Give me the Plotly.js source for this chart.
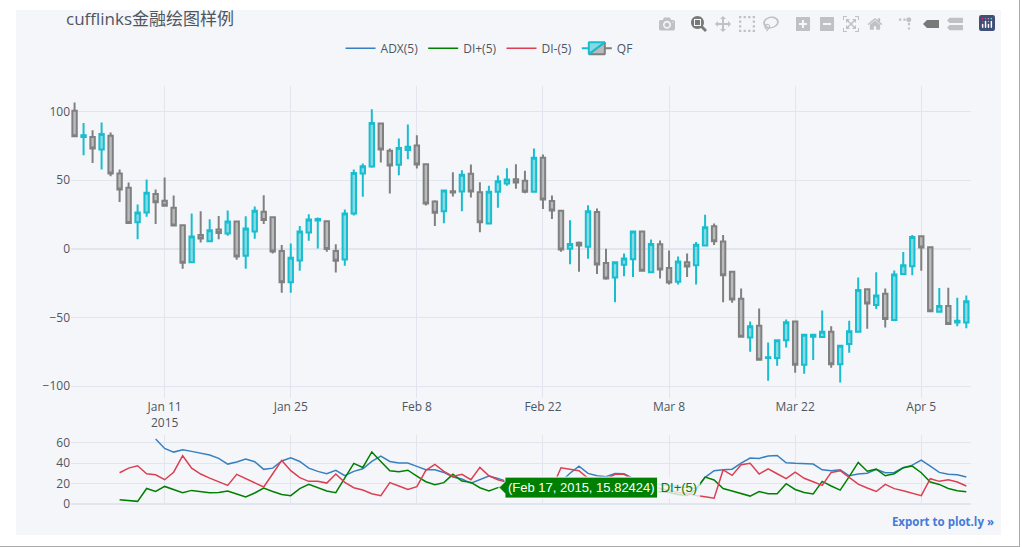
<!DOCTYPE html>
<html><head><meta charset="utf-8">
<script src="https://cdn.plot.ly/plotly-3.0.1.min.js"></script>
<style>
html,body{margin:0;padding:0;background:#fff;overflow:hidden}
#frame{position:absolute;left:0;top:0;width:1019px;height:546px;border-right:1px solid #aaa;border-bottom:1px solid #aaa}
#panel{position:absolute;left:16px;top:10px;width:985px;height:525px;background:#F5F6F9}
#chart{position:absolute;left:16px;top:0;width:985px;height:535px}
.js-plotly-plot .plotly .modebar{top:12px !important}
.js-plot-link-container{font-size:11.5px !important}
</style></head>
<body><div id="frame"></div><div id="panel"></div><div id="chart"></div>
<script>
const dates = [
"2015-01-01","2015-01-02","2015-01-03","2015-01-04","2015-01-05","2015-01-06","2015-01-07","2015-01-08","2015-01-09","2015-01-10",
"2015-01-11","2015-01-12","2015-01-13","2015-01-14","2015-01-15","2015-01-16","2015-01-17","2015-01-18","2015-01-19","2015-01-20",
"2015-01-21","2015-01-22","2015-01-23","2015-01-24","2015-01-25","2015-01-26","2015-01-27","2015-01-28","2015-01-29","2015-01-30",
"2015-01-31","2015-02-01","2015-02-02","2015-02-03","2015-02-04","2015-02-05","2015-02-06","2015-02-07","2015-02-08","2015-02-09",
"2015-02-10","2015-02-11","2015-02-12","2015-02-13","2015-02-14","2015-02-15","2015-02-16","2015-02-17","2015-02-18","2015-02-19",
"2015-02-20","2015-02-21","2015-02-22","2015-02-23","2015-02-24","2015-02-25","2015-02-26","2015-02-27","2015-02-28","2015-03-01",
"2015-03-02","2015-03-03","2015-03-04","2015-03-05","2015-03-06","2015-03-07","2015-03-08","2015-03-09","2015-03-10","2015-03-11",
"2015-03-12","2015-03-13","2015-03-14","2015-03-15","2015-03-16","2015-03-17","2015-03-18","2015-03-19","2015-03-20","2015-03-21",
"2015-03-22","2015-03-23","2015-03-24","2015-03-25","2015-03-26","2015-03-27","2015-03-28","2015-03-29","2015-03-30","2015-03-31",
"2015-04-01","2015-04-02","2015-04-03","2015-04-04","2015-04-05","2015-04-06","2015-04-07","2015-04-08","2015-04-09","2015-04-10"];

const openVals = [100.5,81.5,81.5,72.3,82.3,54.9,44.4,19.4,26.5,40,35,29.9,17.2,-9.7,10,5.6,14,11.2,19.9,-5,12.6,27,23,-1.5,-24.3,
-8.5,11.9,20.6,20.1,-1.5,-7.8,25.7,54.9,60,91.3,71.4,61.2,72,75.2,61.6,34.5,27.4,42,41.7,54.6,41.3,18.4,41.5,47.6,50.7,
49.5,41.5,66.3,34.9,27.7,0,4.4,1.5,26.9,-10.4,-20.9,-11.6,-7.5,12.6,-17,3.4,-14,-24,-9.7,-11.9,2.4,16.5,5.3,-16.7,-36.4,
-64.6,-56,-79.6,-79.6,-66.5,-52.9,-84.5,-64,-64.3,-60.4,-84,-69.4,-60.4,-29.4,-41,-32.8,-51.9,-18.4,-12.6,9.2,1.2,-45.9,-41.7,-53.6,-53.6];
const closeVals = [82,82.8,73,83.7,54.9,43.2,18.9,26.5,40.8,34,31.3,17,-10.2,9,7.5,13.6,11.6,19.9,-5.6,14.8,27.7,21,-2,-24.3,-6.5,
12.6,21.4,21.8,-0.2,-8.7,25.7,55.3,60.2,91.7,72.3,60.7,73.5,74.3,61.4,33,26.2,42.5,41,53.9,41.7,19.4,41.5,49.3,50.5,48.3,
41.5,66.3,35.9,27.9,-0.5,3.6,2.4,27.4,-11.4,-21.6,-9.7,-7,12.6,-16,3.6,-15,-24.5,-9.2,-12.9,2.9,15.8,5.6,-19.2,-36.9,-64,
-56.3,-80.8,-78.9,-66.5,-53.4,-84.5,-62.6,-62.6,-60.4,-84,-70.6,-60,-30,-39.8,-34,-51.2,-18.7,-11.9,8.7,1,-45.4,-41.7,-54.8,-52.4,-38.1];
const highVals = [106.5,91.7,86.4,92,84.7,57.8,48.3,32.3,50.5,43.2,52,38.8,17.7,25.7,27.4,21.6,24,27.9,20.6,23.8,30.8,39,23.8,2.7,3.9,
16.7,25.2,22.8,20.4,3.4,28.6,57.8,62.1,101.7,91.7,73,80.3,90.5,82.8,62.1,35.4,43.2,55.8,57.3,61.4,48.5,45.9,53.4,58.7,61.6,
56.8,73,68.7,38.8,28.2,20.9,5.3,31.8,29.4,0,-9.7,-3.4,13.1,13.1,6.8,6,-1.2,-5.6,-3.4,5,24.8,18.4,10,-16.7,-28.9,
-52.9,-43.4,-68.2,-66,-51.5,-52.2,-62.1,-62.1,-44.9,-56.3,-70.6,-52.4,-20.9,-29.2,-17,-28.9,-15.8,-2.4,10,9.7,1.7,-28.6,-28.4,-35.7,-34];
const lowVals = [81.5,68.2,62.6,57.8,52.9,34.2,18.4,7,23.3,18,31.3,17,-14.6,-9.7,4.6,4.9,7,9.5,-8,-14.6,7.3,18,-3.4,-32,-32,
-16,5.8,0.2,-2.2,-17.2,-12.4,24.3,37.9,59,62.9,40.3,53.6,65.3,58.5,31.6,16.7,18.7,38.1,27.4,37.4,12.1,18.4,29.9,45.9,43.7,
40.5,41.5,29.1,21.8,-2.2,-11.2,-16.7,-7.3,-18.4,-22.6,-39,-19.9,-20.6,-16,-17.5,-21.6,-26,-26,-20.6,-26,2.4,2.7,-39,-39.3,-64,
-75,-81,-96,-85.2,-71.8,-90.3,-91,-81,-64.3,-86.6,-97.3,-75.7,-60.4,-58.2,-43.9,-57.3,-51.9,-18.4,-19.2,-16,-45.6,-46.6,-55,-56.3,-57.8];

const adxVals = [null,null,null,null,null,null,null,null,null,63.6,54.4,50.8,53.1,51.5,49.8,47.9,44.6,39,41,43.9,41.3,33.8,35,42,45.2,
41.6,35,31.8,29.5,32.8,27.5,31.8,34.4,41.6,46.9,41.6,40,40,36.7,33.4,33.4,30.8,26.2,24.3,20.3,23.6,27.2,24.9,22,20,
20,21,22,21,21.6,30,37,29.8,27.5,26.6,29.8,29.5,25,23,21,19,18,17,16,15,26,32.5,33.4,34,40,
45,44.6,47,47.5,40.3,39.7,39.3,39,33.4,32.5,33.4,27.5,29.2,30,33.8,30.5,30.8,35.4,38,43,37,30.8,29,28.5,26.2];
const diPlusVals = [null,null,null,null,null,3.9,3.3,2.3,15,12.1,17,13.8,10.8,13.1,12,10.8,11,12.5,9.5,6.6,10.5,15.4,12,9,7.9,
14.8,19,15.7,12.5,10.8,25,39.7,35.7,51,41.6,32.5,31.5,33,27.2,21.6,18.7,20.7,28.9,22.3,21,15.7,12.5,15.82424,17,18,
16,15,13,15,17,14,12,12,14,13,12,10,11,10,9,12,11,9,8,13.8,26.2,23.3,15,12.5,9.8,
7.5,12,9.8,9.8,19.7,14,11,9.5,22,17.4,13.4,26.6,40.7,32,34,27.5,29.5,35.4,37,30.5,21.3,19,15,12.8,11.8];
const diMinusVals = [null,null,null,null,null,30.5,35,37.4,29.5,28.5,23.6,31,47.2,35,29.2,25.2,21.6,18,28.9,24.9,20.3,16.4,29.5,42.6,32.5,
25.6,22,22,20.3,29.2,21,15.7,13.4,9.8,7.9,20.7,17.4,14,16.7,32.8,38.7,31.8,26.9,28.9,23.6,35.7,27.5,23.6,21,20,
20,18,17,15,35.4,34,32.5,25,23,24,29,29,24,20,18,15,13,11,10,8,6.9,5.4,33.2,27.9,38.4,
39.7,29.2,34.4,29.5,24.6,31,25,21.6,18,30.8,32.5,26,19.3,15.4,12,19,14.8,12.8,10,7.9,24.6,22,23.6,21.3,17.4];

const titleText = "cufflinks金融绘图样例";
const fontFamily = '"Open Sans","Noto Sans CJK SC",verdana,arial,sans-serif';
const inkColor = "#4D5663", gridColor = "#E1E5ED", bgColor = "#F5F6F9";

const line = (name, y, color) => ({type:"scatter", mode:"lines", name, x:dates, y, xaxis:"x2", yaxis:"y2",
  line:{color, width:1.5}, connectgaps:false});

const traces = [
  line("ADX(5)", adxVals, "rgb(55,128,191)"),
  line("DI+(5)", diPlusVals, "green"),
  line("DI-(5)", diMinusVals, "rgb(219,64,82)"),
  {type:"candlestick", name:"QF", x:dates, open:openVals, high:highVals, low:lowVals, close:closeVals,
   xaxis:"x", yaxis:"y", increasing:{line:{color:"#17BECF"}}, decreasing:{line:{color:"grey"}}}
];

const xRange = ["2014-12-31 14:30","2015-04-10 12:30"];
const xBase = {range:xRange, type:"date", dtick:14*86400000, tick0:"2015-01-11", gridcolor:gridColor, gridwidth:1.2,
  showline:false, zeroline:false, tickfont:{color:inkColor,size:12}, ticks:""};
const yBase = {gridcolor:gridColor, zerolinecolor:gridColor, zerolinewidth:2, gridwidth:1.2, showline:false,
  tickfont:{color:inkColor,size:12}, ticks:""};

const layout = {
  width:985, height:535, autosize:false,
  paper_bgcolor:"rgba(0,0,0,0)", plot_bgcolor:bgColor,
  font:{family:fontFamily, color:inkColor, size:12},
  title:{text:titleText, x:0.0508, xanchor:"left", y:0.9645, yanchor:"middle", font:{family:fontFamily, color:inkColor, size:17}},
  margin:{l:55, r:30, t:86, b:31, pad:0},
  hovermode:"closest", dragmode:"zoom", showlegend:true,
  modebar:{bgcolor:"rgba(0,0,0,0)", color:"rgba(68,68,68,0.3)", activecolor:"rgba(68,68,68,0.7)"},
  legend:{orientation:"h", x:0.2995, xanchor:"left", y:1.125, yanchor:"top", bgcolor:"rgba(0,0,0,0)", font:{color:inkColor,size:12}},
  xaxis:Object.assign({}, xBase, {anchor:"y", domain:[0,1], rangeslider:{visible:false}}),
  xaxis2:Object.assign({}, xBase, {anchor:"y2", domain:[0,1], showticklabels:false}),
  yaxis:Object.assign({}, yBase, {domain:[0.2531,1], range:[-108.8,118.6], anchor:"x", dtick:50}),
  yaxis2:Object.assign({}, yBase, {domain:[0,0.165], range:[-0.3,67.6], anchor:"x2", dtick:20})
};

const config = {
  displayModeBar:true, displaylogo:true, responsive:false,
  showLink:true, linkText:"Export to plot.ly", sendData:true,
  modeBarButtons:[["toImage"],["zoom2d","pan2d","select2d","lasso2d"],
    ["zoomIn2d","zoomOut2d","autoScale2d","resetScale2d"],
    ["toggleSpikelines","hoverClosestCartesian","hoverCompareCartesian"]]
};

const gd = document.getElementById("chart");
Plotly.newPlot(gd, traces, layout, config).then(() => {
  const logo = gd.querySelector(".plotlyjsicon svg");
  if (logo) {
    let big = null, area = 0;
    logo.querySelectorAll("rect,path").forEach(el => {
      const b = el.getBoundingClientRect();
      if (b.width * b.height > area) { area = b.width * b.height; big = el; }
    });
    if (big) { big.style.fill = "#3F4F75"; }
  }
  setTimeout(() => { Plotly.Fx.hover(gd, [{curveNumber:1, pointNumber:47}], "x2y2"); }, 100);
});
</script></body></html>
